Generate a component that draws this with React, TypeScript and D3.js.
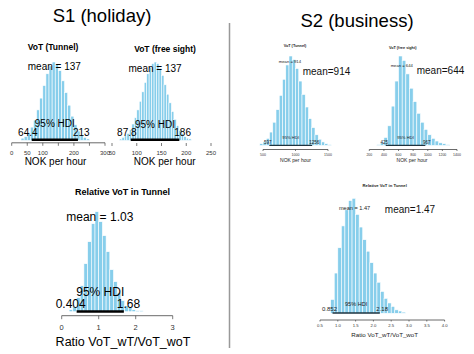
import React from "react";
import * as d3 from "d3";

// S1 (holiday) – VoT in tunnel, NOK per hour (bar heights relative, peak = 100)
const s1TunnelBinStart = 30;
const s1TunnelBinWidth = 10;
const s1TunnelCounts = [3, 5, 10, 17, 26, 39, 54, 70, 85, 95, 100, 97, 89, 76, 61, 45, 31, 20, 12, 7, 4, 2];
const s1TunnelMean = 137;
const s1TunnelHdi = [64.4, 213];
const s1TunnelHdiLabels = ["64.4", "213"];
const s1TunnelTicks = [0, 50, 100, 150, 200, 250, 300];
const s1TunnelTickLabels = ["0", "50", "100", "", "200", "", "300"];

// S1 (holiday) – VoT free sight
const s1FreeBinStart = 65;
const s1FreeBinWidth = 5;
const s1FreeCounts = [2, 4, 6, 9, 14, 21, 29, 39, 50, 62, 74, 85, 93, 98, 100, 98, 92, 83, 71, 59, 48, 37, 27, 19, 13, 9, 5, 3, 2];
const s1FreeMean = 137;
const s1FreeHdi = [87.8, 186];
const s1FreeHdiLabels = ["87.8", "186"];
const s1FreeTicks = [50, 100, 150, 200, 250];
const s1FreeTickLabels = ["50", "100", "150", "200", "250"];

// S1 (holiday) – relative VoT
const s1RelBinStart = 0.2;
const s1RelBinWidth = 0.1;
const s1RelCounts = [2, 5, 14, 26, 48, 70, 88, 100, 90, 76, 60, 42, 30, 19, 11, 6, 4, 2, 1, 1];
const s1RelMean = 1.03;
const s1RelHdi = [0.404, 1.68];
const s1RelHdiLabels = ["0.404", "1.68"];
const s1RelTicks = [0, 1, 2, 3];
const s1RelTickLabels = ["0", "1", "2", "3"];

// S2 (business) – VoT in tunnel
const s2TunnelBinStart = 450;
const s2TunnelBinWidth = 50;
const s2TunnelCounts = [2, 4, 8, 15, 26, 40, 56, 74, 90, 100, 96, 86, 72, 57, 43, 30, 20, 12, 7, 4, 2, 1];
const s2TunnelMean = 914;
const s2TunnelHdi = [597, 1256];
const s2TunnelHdiLabels = ["597", "1256"];
const s2TunnelTicks = [500, 1000, 1500];
const s2TunnelTickLabels = ["500", "1000", "1500"];

// S2 (business) – VoT free sight
const s2FreeBinStart = 300;
const s2FreeBinWidth = 50;
const s2FreeCounts = [1, 3, 9, 22, 44, 72, 100, 95, 80, 64, 49, 36, 26, 18, 12, 8, 5, 3, 2, 1];
const s2FreeMean = 644;
const s2FreeHdi = [425, 967];
const s2FreeHdiLabels = ["425", "967"];
const s2FreeTicks = [200, 400, 600, 800, 1000, 1200, 1400];
const s2FreeTickLabels = ["200", "400", "600", "800", "1000", "1200", "1400"];

// S2 (business) – relative VoT
const s2RelBinStart = 0.8;
const s2RelBinWidth = 0.1;
const s2RelCounts = [12, 35, 57, 76, 90, 98, 100, 86, 75, 64, 54, 44, 35, 27, 19, 13, 9, 6, 3, 2, 1];
const s2RelMean = 1.47;
const s2RelHdi = [0.852, 2.18];
const s2RelHdiLabels = ["0.852", "2.18"];
const s2RelTicks = [0.5, 1, 1.5, 2, 2.5, 3, 3.5, 4];
const s2RelTickLabels = ["0.5", "1.0", "1.5", "2.0", "2.5", "3.0", "3.5", "4.0"];

const FONT = "'Liberation Sans', Arial, sans-serif";
const BAR = "#87CEEB";

const textW = (s: string, size: number) =>
  d3.sum(Array.from(s), (ch) => (ch === "." ? 0.278 : 0.556)) * size;

function Panel(props: any) {
  const p = props;
  const x = d3.scaleLinear().domain(p.domain).range(p.range);
  const y = d3.scaleLinear().domain([0, d3.max(p.counts as number[])!]).range([p.base, p.top]);
  const bins = (p.counts as number[]).map((c, i) => ({
    x0: p.binStart + i * p.binWidth,
    x1: p.binStart + (i + 1) * p.binWidth,
    c,
  }));
  const [lo, hi] = p.hdi;
  const wLo = textW(p.hdiLabels[0], p.labelSize);
  const wHi = textW(p.hdiLabels[1], p.labelSize);
  const ink = p.ink || "#000";

  return (
    <g fontFamily={FONT}>
      <text x={p.titleX} y={p.titleY} fontSize={p.titleSize} fontWeight="bold" textAnchor="middle" fill={ink}>
        {p.title}
      </text>
      {bins.map((b, i) => (
        <rect
          key={i}
          x={x(b.x0)}
          y={y(b.c)}
          width={x(b.x1) - x(b.x0)}
          height={p.base - y(b.c)}
          fill={BAR}
          stroke="#fff"
          strokeWidth={0.6}
        />
      ))}
      <line x1={x(lo)} x2={x(hi)} y1={p.hdiY} y2={p.hdiY} stroke={p.hdiColor} strokeWidth={p.hdiW} />
      <text x={x(p.mean)} y={p.meanY} fontSize={p.textSize} textAnchor="middle" fill={ink}>
        {p.meanLabel}
      </text>
      <text x={(x(lo) + x(hi)) / 2} y={p.hdiTextY} fontSize={p.textSize} textAnchor="middle" fill={ink}>
        95% HDI
      </text>
      <text x={x(lo) - 0.2 * wLo} y={p.hdiLabelY} fontSize={p.labelSize} textAnchor="middle" fill={ink}>
        {p.hdiLabels[0]}
      </text>
      <text x={x(hi) + 0.2 * wHi} y={p.hdiLabelY} fontSize={p.labelSize} textAnchor="middle" fill={ink}>
        {p.hdiLabels[1]}
      </text>
      {p.axisLine && (
        <line
          x1={x(p.ticks[0])}
          x2={x(p.ticks[p.ticks.length - 1])}
          y1={p.axisY}
          y2={p.axisY}
          stroke="#444"
          strokeWidth={0.8}
        />
      )}
      {(p.ticks as number[]).map((t, i) => (
        <g key={i} transform={`translate(${x(t)},0)`}>
          <line y1={p.axisY} y2={p.axisY + p.tickLen} stroke="#444" strokeWidth={0.7} />
          <text y={p.tickLabelY} fontSize={p.tickSize} textAnchor="middle" fill="#333">
            {p.tickLabels[i]}
          </text>
        </g>
      ))}
      <text x={p.xlabX} y={p.xlabY} fontSize={p.xlabSize} textAnchor="middle" fill={ink}>
        {p.xlab}
      </text>
      {p.overlay && (
        <text x={p.overlayX} y={p.overlayY} fontSize={10} textAnchor="middle" fill="#111">
          {p.overlay}
        </text>
      )}
    </g>
  );
}

export default function App() {
  return (
    <div style={{ position: "fixed", left: 0, top: 0 }}>
      <svg width={474} height={354} style={{ display: "block", background: "#fff" }}>
        <text x={102} y={21.5} fontFamily={FONT} fontSize={18.5} textAnchor="middle">S1 (holiday)</text>
        <text x={357} y={26.5} fontFamily={FONT} fontSize={18.5} textAnchor="middle">S2 (business)</text>
        <line x1={229.5} x2={229.5} y1={23} y2={348} stroke="#999" strokeWidth={1.5} />

        <Panel
          counts={s1TunnelCounts} binStart={s1TunnelBinStart} binWidth={s1TunnelBinWidth}
          mean={s1TunnelMean} meanLabel="mean = 137" hdi={s1TunnelHdi} hdiLabels={s1TunnelHdiLabels}
          ticks={s1TunnelTicks} tickLabels={s1TunnelTickLabels}
          domain={[0, 300]} range={[11.7, 105]} base={140.5} top={62}
          title="VoT (Tunnel)" titleX={53} titleY={49.5} titleSize={8.5}
          meanY={70} textSize={10} labelSize={10} hdiTextY={127} hdiLabelY={135.5}
          hdiY={139.8} hdiW={2.5} hdiColor="#000"
          axisLine axisY={142.8} tickLen={3} tickLabelY={155} tickSize={6}
          xlab="NOK per hour" xlabX={55.5} xlabY={165} xlabSize={10}
        />
        <Panel
          counts={s1FreeCounts} binStart={s1FreeBinStart} binWidth={s1FreeBinWidth}
          mean={s1FreeMean} meanLabel="mean = 137" hdi={s1FreeHdi} hdiLabels={s1FreeHdiLabels}
          ticks={s1FreeTicks} tickLabels={s1FreeTickLabels}
          domain={[50, 250]} range={[112, 211]} base={140.5} top={62}
          title="VoT (free sight)" titleX={165} titleY={51.5} titleSize={8.5}
          meanY={71.5} textSize={10} labelSize={10} hdiTextY={127.5} hdiLabelY={135.5}
          hdiY={139.8} hdiW={2.5} hdiColor="#000"
          axisLine={false} axisY={143} tickLen={3} tickLabelY={155} tickSize={6}
          xlab="NOK per hour" xlabX={164.7} xlabY={165} xlabSize={10}
        />
        <Panel
          counts={s1RelCounts} binStart={s1RelBinStart} binWidth={s1RelBinWidth}
          mean={s1RelMean} meanLabel="mean = 1.03" hdi={s1RelHdi} hdiLabels={s1RelHdiLabels}
          ticks={s1RelTicks} tickLabels={s1RelTickLabels}
          domain={[0, 3]} range={[61.7, 172.7]} base={311.7} top={211.7}
          title="Relative VoT in Tunnel" titleX={122.5} titleY={195} titleSize={9}
          meanY={221} textSize={12} labelSize={12} hdiTextY={296} hdiLabelY={307.5}
          hdiY={311.5} hdiW={2.5} hdiColor="#000"
          axisLine axisY={315.7} tickLen={3.5} tickLabelY={329.5} tickSize={7.5}
          xlab="Ratio VoT_wT/VoT_woT" xlabX={123} xlabY={346} xlabSize={12.5}
        />

        <Panel
          counts={s2TunnelCounts} binStart={s2TunnelBinStart} binWidth={s2TunnelBinWidth}
          mean={s2TunnelMean} meanLabel="mean = 914" hdi={s2TunnelHdi} hdiLabels={s2TunnelHdiLabels}
          ticks={s2TunnelTicks} tickLabels={s2TunnelTickLabels}
          domain={[500, 1500]} range={[263, 328]} base={145.5} top={56}
          title="VoT (Tunnel)" titleX={295} titleY={46.5} titleSize={3.8} ink="#222"
          meanY={63} textSize={4.2} labelSize={4.5} hdiTextY={139} hdiLabelY={143.5}
          hdiY={145.3} hdiW={1.3} hdiColor="#1f3440"
          axisLine axisY={149.5} tickLen={1.5} tickLabelY={155.5} tickSize={3.5}
          xlab="NOK per hour" xlabX={295.5} xlabY={162} xlabSize={5}
          overlay="mean=914" overlayX={326.5} overlayY={74.5}
        />
        <Panel
          counts={s2FreeCounts} binStart={s2FreeBinStart} binWidth={s2FreeBinWidth}
          mean={s2FreeMean} meanLabel="mean = 644" hdi={s2FreeHdi} hdiLabels={s2FreeHdiLabels}
          ticks={s2FreeTicks} tickLabels={s2FreeTickLabels}
          domain={[200, 1400]} range={[369.3, 457]} base={145.5} top={56}
          title="VoT (free sight)" titleX={402.7} titleY={49} titleSize={3.8} ink="#222"
          meanY={67} textSize={4.2} labelSize={4.5} hdiTextY={139} hdiLabelY={143.5}
          hdiY={145.3} hdiW={1.3} hdiColor="#1f3440"
          axisLine axisY={149.5} tickLen={1.5} tickLabelY={155.5} tickSize={3.5}
          xlab="NOK per hour" xlabX={412} xlabY={162} xlabSize={5}
          overlay="mean=644" overlayX={440.5} overlayY={74}
        />
        <Panel
          counts={s2RelCounts} binStart={s2RelBinStart} binWidth={s2RelBinWidth}
          mean={s2RelMean} meanLabel="mean = 1.47" hdi={s2RelHdi} hdiLabels={s2RelHdiLabels}
          ticks={s2RelTicks} tickLabels={s2RelTickLabels}
          domain={[0.5, 4]} range={[320, 444.6]} base={313.3} top={198.3}
          title="Relative VoT in Tunnel" titleX={384.7} titleY={186.5} titleSize={4.2} ink="#222"
          meanY={210.3} textSize={5.6} labelSize={6} hdiTextY={306} hdiLabelY={311}
          hdiY={313} hdiW={1.4} hdiColor="#1f3440"
          axisLine axisY={320} tickLen={1.5} tickLabelY={327} tickSize={4.2}
          xlab="Ratio VoT_wT/VoT_woT" xlabX={384.7} xlabY={336.5} xlabSize={6.2}
          overlay="mean=1.47" overlayX={410} overlayY={212.5}
        />
      </svg>
    </div>
  );
}
